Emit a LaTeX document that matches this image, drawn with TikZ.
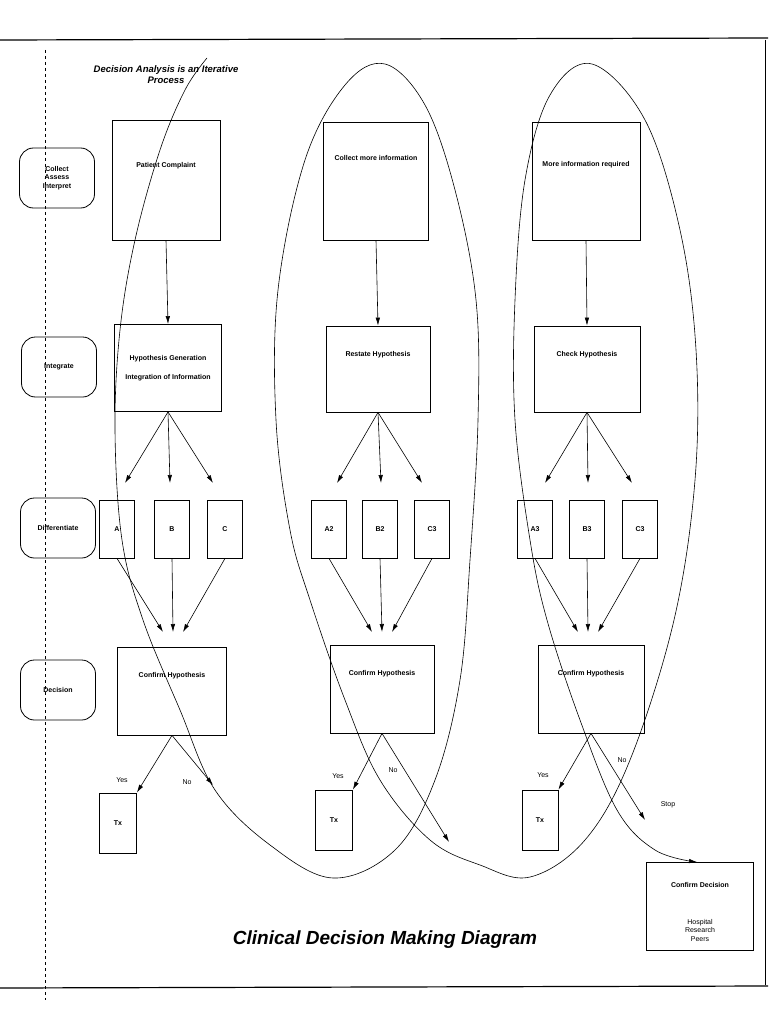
\documentclass[tikz,border=0pt]{standalone}
\usepackage{fontspec}
\setmainfont{Liberation Sans}
\usetikzlibrary{arrows.meta, positioning}
\tikzset{
    % box styles
    box/.style={draw, thick, font=\bfseries\fontsize{7}{8.5}\selectfont, align=center, inner sep=2pt},
    stage/.style={draw, thick, rounded corners=14pt, font=\bfseries\fontsize{7}{8.5}\selectfont, align=center, minimum width=75pt, minimum height=60pt},
    lbl/.style={font=\bfseries\fontsize{7}{8.5}\selectfont},
    arrow/.style={-{Latex[length=8pt,width=4.5pt]}, semithick}
}
\begin{document}
\begin{tikzpicture}[x=1pt, y=-1pt]
    \useasboundingbox (0,0) rectangle (768,1024);

    % --- frame ---
    \draw[very thick] (0,40) -- (768,38);
    \draw[thick] (765,40) -- (765,985);
    \draw[very thick] (0,988) -- (768,986);
    \draw[dashed] (45,50) -- (45,1000);

    % --- titles ---
    \node (title) [font=\bfseries\itshape\fontsize{9.5}{11}\selectfont, align=center] at (166,75) {Decision Analysis is an Iterative\\Process};
    \node (caption) [font=\bfseries\itshape\fontsize{19}{22}\selectfont] at (385,940) {Clinical Decision Making Diagram};

    % --- stages (left) ---
    \node (sCollect) [stage] at (57,178) {Collect\\Assess\\Interpret};
    \node (sIntegrate) [stage] at (59,367) {Integrate};
    \node (sDiff) [stage] at (58,528) {Differentiate};
    \node (sDecision) [stage] at (58,690) {Decision};

    % --- column 1 ---
    \node (info1) [box, minimum width=108pt, minimum height=120pt] at (166,180) {};
    \node [lbl] at (166,166) {Patient Complaint};
    \node (hyp1) [box, minimum width=107pt, minimum height=87pt] at (168,368) {Hypothesis Generation\\[10pt]Integration of Information};
    \node (a1) [box, minimum width=35pt, minimum height=58pt] at (117,529) {A};
    \node (b1) [box, minimum width=35pt, minimum height=58pt] at (172,529) {B};
    \node (c1) [box, minimum width=35pt, minimum height=58pt] at (225,529) {C};
    \node (conf1) [box, minimum width=109pt, minimum height=88pt] at (172,691) {};
    \node [lbl] at (172,676) {Confirm Hypothesis};
    \node (tx1) [box, minimum width=37pt, minimum height=60pt] at (118,823) {Tx};

    % --- column 2 ---
    \node (info2) [box, minimum width=105pt, minimum height=118pt] at (376,181) {};
    \node [lbl] at (376,158) {Collect more information};
    \node (hyp2) [box, minimum width=104pt, minimum height=86pt] at (378,369) {};
    \node [lbl] at (378,355) {Restate Hypothesis};
    \node (a2) [box, minimum width=35pt, minimum height=58pt] at (329,529) {A2};
    \node (b2) [box, minimum width=35pt, minimum height=58pt] at (380,529) {B2};
    \node (c2) [box, minimum width=35pt, minimum height=58pt] at (432,529) {C3};
    \node (conf2) [box, minimum width=104pt, minimum height=88pt] at (382,689) {};
    \node [lbl] at (382,674) {Confirm Hypothesis};
    \node (tx2) [box, minimum width=37pt, minimum height=60pt] at (334,820) {Tx};

    % --- column 3 ---
    \node (info3) [box, minimum width=108pt, minimum height=118pt] at (586,181) {};
    \node [lbl] at (586,165) {More information required};
    \node (hyp3) [box, minimum width=106pt, minimum height=86pt] at (587,369) {};
    \node [lbl] at (587,355) {Check Hypothesis};
    \node (a3) [box, minimum width=35pt, minimum height=58pt] at (535,529) {A3};
    \node (b3) [box, minimum width=35pt, minimum height=58pt] at (587,529) {B3};
    \node (c3) [box, minimum width=35pt, minimum height=58pt] at (640,529) {C3};
    \node (conf3) [box, minimum width=106pt, minimum height=88pt] at (591,689) {};
    \node [lbl] at (591,674) {Confirm Hypothesis};
    \node (tx3) [box, minimum width=36pt, minimum height=60pt] at (540,820) {Tx};

    % --- final decision ---
    \node (decide) [box, minimum width=107pt, minimum height=88pt] at (700,906) {};
    \node [lbl] at (700,885) {Confirm Decision};
    \node [font=\fontsize{7}{8.5}\selectfont, align=center] at (700,930) {Hospital\\Research\\Peers};

    % --- arrows, column 1 ---
    \coordinate (h1a) at (125,483); \coordinate (h1b) at (170,483); \coordinate (h1c) at (213,483);
    \coordinate (m1a) at (163,632); \coordinate (m1b) at (173,632); \coordinate (m1c) at (183,632);
    \coordinate (no1) at (213,785);
    \draw [arrow] (info1.south) -- (hyp1.north);
    \foreach \t in {h1a,h1b,h1c} \draw [arrow] (hyp1.south) -- (\t);
    \draw [arrow] (a1.south) -- (m1a);
    \draw [arrow] (b1.south) -- (m1b);
    \draw [arrow] (c1.south) -- (m1c);
    \draw [arrow] (conf1.south) -- (tx1.north east);
    \draw [arrow] (conf1.south) -- (no1);
    \node [font=\fontsize{7}{8.5}\selectfont] at (122,780) {Yes};
    \node [font=\fontsize{7}{8.5}\selectfont] at (187,782) {No};

    % --- arrows, column 2 ---
    \coordinate (h2a) at (337,483); \coordinate (h2b) at (381,483); \coordinate (h2c) at (422,483);
    \coordinate (m2a) at (372,632); \coordinate (m2b) at (382,632); \coordinate (m2c) at (392,632);
    \coordinate (no2) at (449,842);
    \draw [arrow] (info2.south) -- (hyp2.north);
    \foreach \t in {h2a,h2b,h2c} \draw [arrow] (hyp2.south) -- (\t);
    \draw [arrow] (a2.south) -- (m2a);
    \draw [arrow] (b2.south) -- (m2b);
    \draw [arrow] (c2.south) -- (m2c);
    \draw [arrow] (conf2.south) -- (tx2.north east);
    \draw [arrow] (conf2.south) -- (no2);
    \node [font=\fontsize{7}{8.5}\selectfont] at (338,776) {Yes};
    \node [font=\fontsize{7}{8.5}\selectfont] at (393,770) {No};

    % --- arrows, column 3 ---
    \coordinate (h3a) at (545,483); \coordinate (h3b) at (588,483); \coordinate (h3c) at (632,483);
    \coordinate (m3a) at (578,632); \coordinate (m3b) at (588,632); \coordinate (m3c) at (598,632);
    \coordinate (no3) at (645,820);
    \draw [arrow] (info3.south) -- (hyp3.north);
    \foreach \t in {h3a,h3b,h3c} \draw [arrow] (hyp3.south) -- (\t);
    \draw [arrow] (a3.south) -- (m3a);
    \draw [arrow] (b3.south) -- (m3b);
    \draw [arrow] (c3.south) -- (m3c);
    \draw [arrow] (conf3.south) -- (tx3.north east);
    \draw [arrow] (conf3.south) -- (no3);
    \node [font=\fontsize{7}{8.5}\selectfont] at (543,775) {Yes};
    \node [font=\fontsize{7}{8.5}\selectfont] at (622,760) {No};
    \node [font=\fontsize{7}{8.5}\selectfont] at (668,805) {Stop};

    % --- iterative loop ---
    \coordinate (loopEnd) at (697,862);
    \draw [arrow] plot [smooth, tension=0.6] coordinates {
        (207,58) (185,90) (160,150) (135,240) (120,330) (115,430) (122,540)
        (143,620) (180,710) (215,790) (270,845) (333,878) (395,850) (435,780)
        (460,680) (470,560) (478,420) (476,300) (455,190) (425,105) (385,64)
        (345,85) (305,160) (278,290) (276,420) (290,530) (310,600) (345,700)
        (380,780) (430,840) (480,865) (530,877) (585,840) (630,760) (674,620)
        (695,480) (696,350) (680,230) (645,120) (592,64) (550,95) (525,180)
        (515,300) (515,420) (530,540) (547,620) (580,720) (617,810) (655,850)
        (loopEnd)};
\end{tikzpicture}
\end{document}
